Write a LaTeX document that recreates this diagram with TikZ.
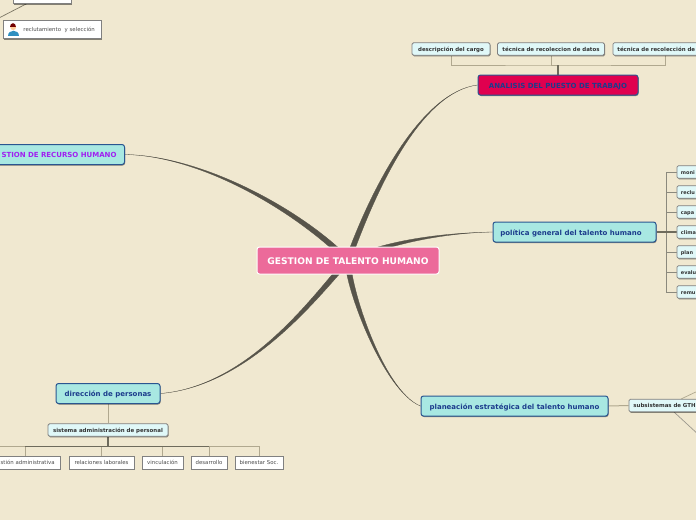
\documentclass[tikz,border=0pt]{standalone}
\usepackage{fontspec}
\setmainfont{DejaVu Sans}
\usetikzlibrary{calc}
\usetikzlibrary{shadows}
\usetikzlibrary{backgrounds}
\definecolor{paper}{HTML}{F0E8D0}
\definecolor{limbgrey}{HTML}{57544A}
\definecolor{twiggrey}{HTML}{B0A88F}
\definecolor{stemgrey}{HTML}{6E6B5C}
\definecolor{teal box}{HTML}{A8E8E2}
\definecolor{navy}{HTML}{2A5590}
\definecolor{navy text}{HTML}{1C3C8C}
\definecolor{root pink}{HTML}{EC6A9A}
\definecolor{crimson}{HTML}{E0004F}
\definecolor{ice}{HTML}{E0F8F8}
\definecolor{icon blue}{HTML}{2F8FC0}
\definecolor{purple text}{HTML}{A020F0}
\tikzset{
	soft shadow/.style={drop shadow={shadow xshift=.6pt,shadow yshift=-1pt,fill=black,opacity=.45}},
	rootbox/.style={draw=white,line width=1pt,fill=root pink,rounded corners=2.5pt,text=white,font=\fontsize{9.1}{11}\selectfont\bfseries,minimum width=182pt,minimum height=27pt,inner sep=0pt,text height=7.4pt,text depth=0pt},
	mainbox/.style={draw=navy,line width=1pt,fill=teal box,rounded corners=2.5pt,text=navy text,font=\fontsize{7}{8}\selectfont\bfseries,minimum height=20pt,inner sep=0pt,text height=6pt,text depth=0pt,soft shadow},
	smallbox/.style={draw=gray,line width=.8pt,fill=ice,rounded corners=1.5pt,text=black!80,font=\fontsize{5.45}{6}\selectfont\bfseries,minimum height=12.5pt,inner sep=0pt,text height=4.4pt,text depth=0pt,soft shadow},
	plainbox/.style={draw=gray,line width=.8pt,fill=white,text=black!70,font=\fontsize{5.4}{6}\selectfont,minimum height=13pt,inner sep=0pt,text height=4.4pt,text depth=0pt,soft shadow},
	limb/.style={fill=limbgrey,draw=limbgrey,line width=.3pt},
	twig/.style={twiggrey,line width=1pt},
	stem/.style={stemgrey,line width=1.4pt},
}
% tapered branch: end, control at root, control at end, half width
\newcommand{\drawlimb}[4]{
	\fill[limb] ($(root.center)+(#4)$) .. controls ($(#2)+(#4)$) and (#3) .. (#1) .. controls (#3) and ($(#2)-(#4)$) .. ($(root.center)-(#4)$) -- cycle;
}
\begin{document}
\begin{tikzpicture}[x=1pt,y=-1pt]
	\path[use as bounding box,clip] (0,0) rectangle (696,520);
	% centre
	\node[rootbox] (root) at (348,260.5) {GESTION DE TALENTO HUMANO};
	% upper right
	\node[mainbox,fill=crimson,minimum width=160pt] (analisis) at (558,85) {ANALISIS DEL PUESTO DE TRABAJO};
	\node[smallbox,minimum width=78pt] (descripcion) at (451,49) {descripción del cargo};
	\node[smallbox,minimum width=107pt] (datos) at (551,49) {técnica de recoleccion de datos};
	\node[smallbox,anchor=west,text width=100pt,align=left,inner xsep=4.5pt] (recoleccion) at (612.5,49) {técnica de recolección de};
	\coordinate (analisis bus) at (558,65);
	\coordinate (recoleccion drop) at (665,55);
	% right
	\node[mainbox,minimum width=163pt] (politica) at (574.5,232) {política general del talento humano\hspace*{7pt}};
	\foreach \name/\word/\ypos in {moni/moni/172,reclu/reclu/192,capa/capa/212,clima/clima/232,plan/plan/252,evalu/evalu/272,remu/remu/292}
		\node[smallbox,anchor=west,text width=40pt,align=left,inner xsep=4pt,font=\fontsize{5}{6}\selectfont\bfseries] (\name) at (676.5,\ypos) {\word};
	\coordinate (politica bus) at (666.5,232);
	% lower right
	\node[mainbox,minimum width=187pt] (planeacion) at (514.5,406) {planeación estratégica del talento humano};
	\node[smallbox,anchor=west,text width=80pt,align=left,inner xsep=4.5pt] (subsistemas) at (628.5,405.5) {subsistemas de GTH};
	\coordinate (sub top) at (681,399);
	\coordinate (sub foot) at (674,412);
	\coordinate (sub up) at (700,390);
	\coordinate (sub down) at (700,436);
	% lower left
	\node[mainbox,minimum width=104pt] (direccion) at (108,393.5) {dirección de personas};
	\node[smallbox,minimum width=120pt] (sistema) at (108,430) {sistema administración de personal};
	\node[plainbox,anchor=east,text width=80pt,align=right,inner xsep=6pt] (gestion) at (61,462.5) {stión administrativa};
	\node[plainbox,minimum width=65pt] (relaciones) at (101.5,462.5) {relaciones laborales};
	\node[plainbox,minimum width=41pt] (vinculacion) at (162.5,462.5) {vinculación};
	\node[plainbox,minimum width=36pt] (desarrollo) at (209,462.5) {desarrollo};
	\node[plainbox,minimum width=48pt] (bienestar) at (259,462.5) {bienestar Soc.};
	\coordinate (sistema bus) at (108,446);
	\coordinate (bus left) at (-5,446);
	\coordinate (gestion drop) at (25,456);
	% upper left
	\node[mainbox,anchor=east,text width=150pt,align=right,inner xsep=8pt,text=purple text] (recurso) at (125,154.5) {STION DE RECURSO HUMANO};
	\node[plainbox,minimum width=58pt,minimum height=14pt] (seleccion top) at (42,-3.5) {};
	\node[plainbox,minimum height=18pt,anchor=west,text width=90pt,align=left,inner xsep=4pt] (seleccion) at (2.5,29.5) {\hspace*{16.5pt}reclutamiento\ \ y selección};
	\coordinate (seleccion out) at (-3,19);
	\coordinate (seleccion drop) at (28,3);
	% person icon
	\fill[icon blue] (7.5,35.5) .. controls (7.5,29) and (19,29) .. (19,35.5) -- cycle;
	\fill[orange!40!white] (13.2,27.2) circle (2.9);
	\fill[red!45!black] (10.3,26.6) .. controls (10.3,22.2) and (16.1,22.2) .. (16.1,26.6) -- cycle;
	\begin{scope}[on background layer]
		\fill[paper] (0,0) rectangle (696,520);
		\drawlimb{analisis.west}{375,185}{422,92}{2.8,0}
		\drawlimb{politica.west}{385,243}{440,233}{0,2.4}
		\drawlimb{planeacion.west}{347,285}{383,391}{2.8,0}
		\drawlimb{direccion.east}{320,290}{252,386}{2.2,1.6}
		\drawlimb{recurso.east}{300,212}{204,156}{1.6,-2.2}
		% thin links
		\draw[twig] (descripcion.south) |- (analisis bus) -| (recoleccion drop);
		\draw[twig] (datos.south) |- (analisis bus);
		\draw[stem] (analisis.north) -- (analisis bus);
		\foreach \name in {moni,reclu,capa,evalu,remu,plan}
			\draw[stemgrey!80,line width=.8pt] (politica bus) |- (\name.west);
		\draw[stem] (politica.east) -- (clima.west);
		\draw[twig] (planeacion.east) -- (subsistemas.west);
		\draw[twig,line width=.7pt] (sub top) -- (sub up);
		\draw[stemgrey!70,line width=.7pt] (sub foot) -- (sub down);
		\draw[twig] (direccion.south) -- (sistema.north);
		\draw[twig] (bus left) -- (bienestar.north |- sistema bus);
		\foreach \name in {relaciones,vinculacion,desarrollo,bienestar}
			\draw[twig] (\name.north) -- (\name.north |- sistema bus);
		\draw[twig] (gestion drop) -- (gestion drop |- sistema bus);
		\draw[stemgrey,line width=.8pt] (gestion drop |- sistema bus) -- (desarrollo.north |- sistema bus);
		\draw[stem] (sistema.south) -- (sistema bus);
		\draw[twiggrey!70!black,line width=.7pt] (seleccion drop) -- (seleccion out);
	\end{scope}
\end{tikzpicture}
\end{document}
